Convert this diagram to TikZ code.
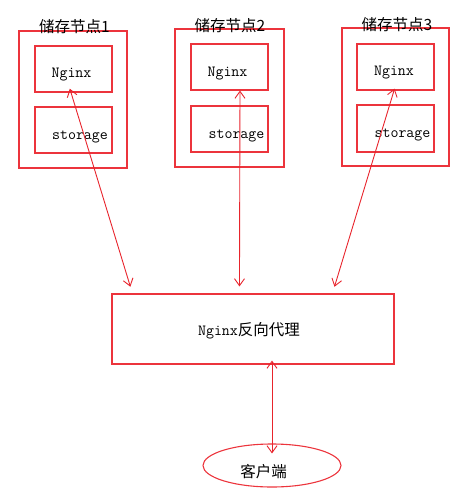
\documentclass[tikz,border=0pt]{standalone}
\usepackage{fontspec}
\newfontfamily\cjk{Noto Sans CJK SC}
\usetikzlibrary{arrows.meta,calc,shapes.geometric}
\definecolor{boxred}{RGB}{236,52,60}
\definecolor{arrred}{RGB}{232,36,44}
\begin{document}
\begin{tikzpicture}[x=1pt,y=-1pt,
  box/.style={draw=boxred,line width=1.1pt,inner sep=0pt,fill=none},
  mono/.style={inner sep=0pt,anchor=base,font=\ttfamily\fontsize{15.5}{16}\selectfont},
  cjktext/.style={inner sep=0pt,anchor=base,font=\cjk\fontsize{15.5}{16}\selectfont},
  arr/.style={draw=arrred,line width=0.9pt,{Straight Barb[length=7pt,width=10pt]}-{Straight Barb[length=7pt,width=10pt]}}]
\useasboundingbox (0,0) rectangle (463,501);
% storage node 1
\node[box,minimum width=108pt,minimum height=137pt] (o1) at (73,99.5) {};
\node[box,minimum width=77pt,minimum height=46pt] (n1) at (73.5,69) {};
\node[box,minimum width=77pt,minimum height=46pt] (s1) at (73.5,130) {};
\node[cjktext] (t1) at (74.5,32) {储存节点1};
\node[mono] (nl1) at (71.5,77) {Nginx};
\node[mono] (sl1) at (80,139) {storage};
% storage node 2
\node[box,minimum width=109pt,minimum height=138pt] (o2) at (229.5,98) {};
\node[box,minimum width=77pt,minimum height=46pt] (n2) at (229.5,67) {};
\node[box,minimum width=77pt,minimum height=46pt] (s2) at (229.5,129) {};
\node[cjktext] (t2) at (230,31) {储存节点2};
\node[mono] (nl2) at (227.5,76) {Nginx};
\node[mono] (sl2) at (236.5,138) {storage};
% storage node 3
\node[box,minimum width=107pt,minimum height=138pt] (o3) at (395.5,97) {};
\node[box,minimum width=77pt,minimum height=46pt] (n3) at (395.5,67) {};
\node[box,minimum width=77pt,minimum height=47pt] (s3) at (395.5,128.5) {};
\node[cjktext] (t3) at (397,30) {储存节点3};
\node[mono] (nl3) at (394,75) {Nginx};
\node[mono] (sl3) at (402.5,137) {storage};
% proxy
\node[box,minimum width=282pt,minimum height=70pt] (proxy) at (253,329) {};
\node[inner sep=0pt,anchor=base] (pl) at (249,335) {{\ttfamily\fontsize{15.5}{16}\selectfont Nginx}{\cjk\fontsize{15.5}{16}\selectfont 反向代理}};
% client
\node[draw=boxred,line width=1.1pt,ellipse,minimum width=138pt,minimum height=43pt,inner sep=0pt] (client) at (272,465.5) {};
\node[cjktext] (cl) at (263.5,477) {客户端};
% connectors
\draw[arr,shorten <=-4pt,shorten >=7pt] ([xshift=-2.5]n1.south) -- ([xshift=21]proxy.north west);
\draw[arr,shorten <=0pt,shorten >=7pt] ([xshift=10.5]n2.south) -- ([xshift=128]proxy.north west);
\draw[arr,shorten <=-2pt,shorten >=7pt] ([xshift=-1.5]n3.south) -- ([xshift=221]proxy.north west);
\draw[arr,shorten <=-4pt,shorten >=-10pt] ([xshift=19]proxy.south) -- (client.north);
\end{tikzpicture}
\end{document}
